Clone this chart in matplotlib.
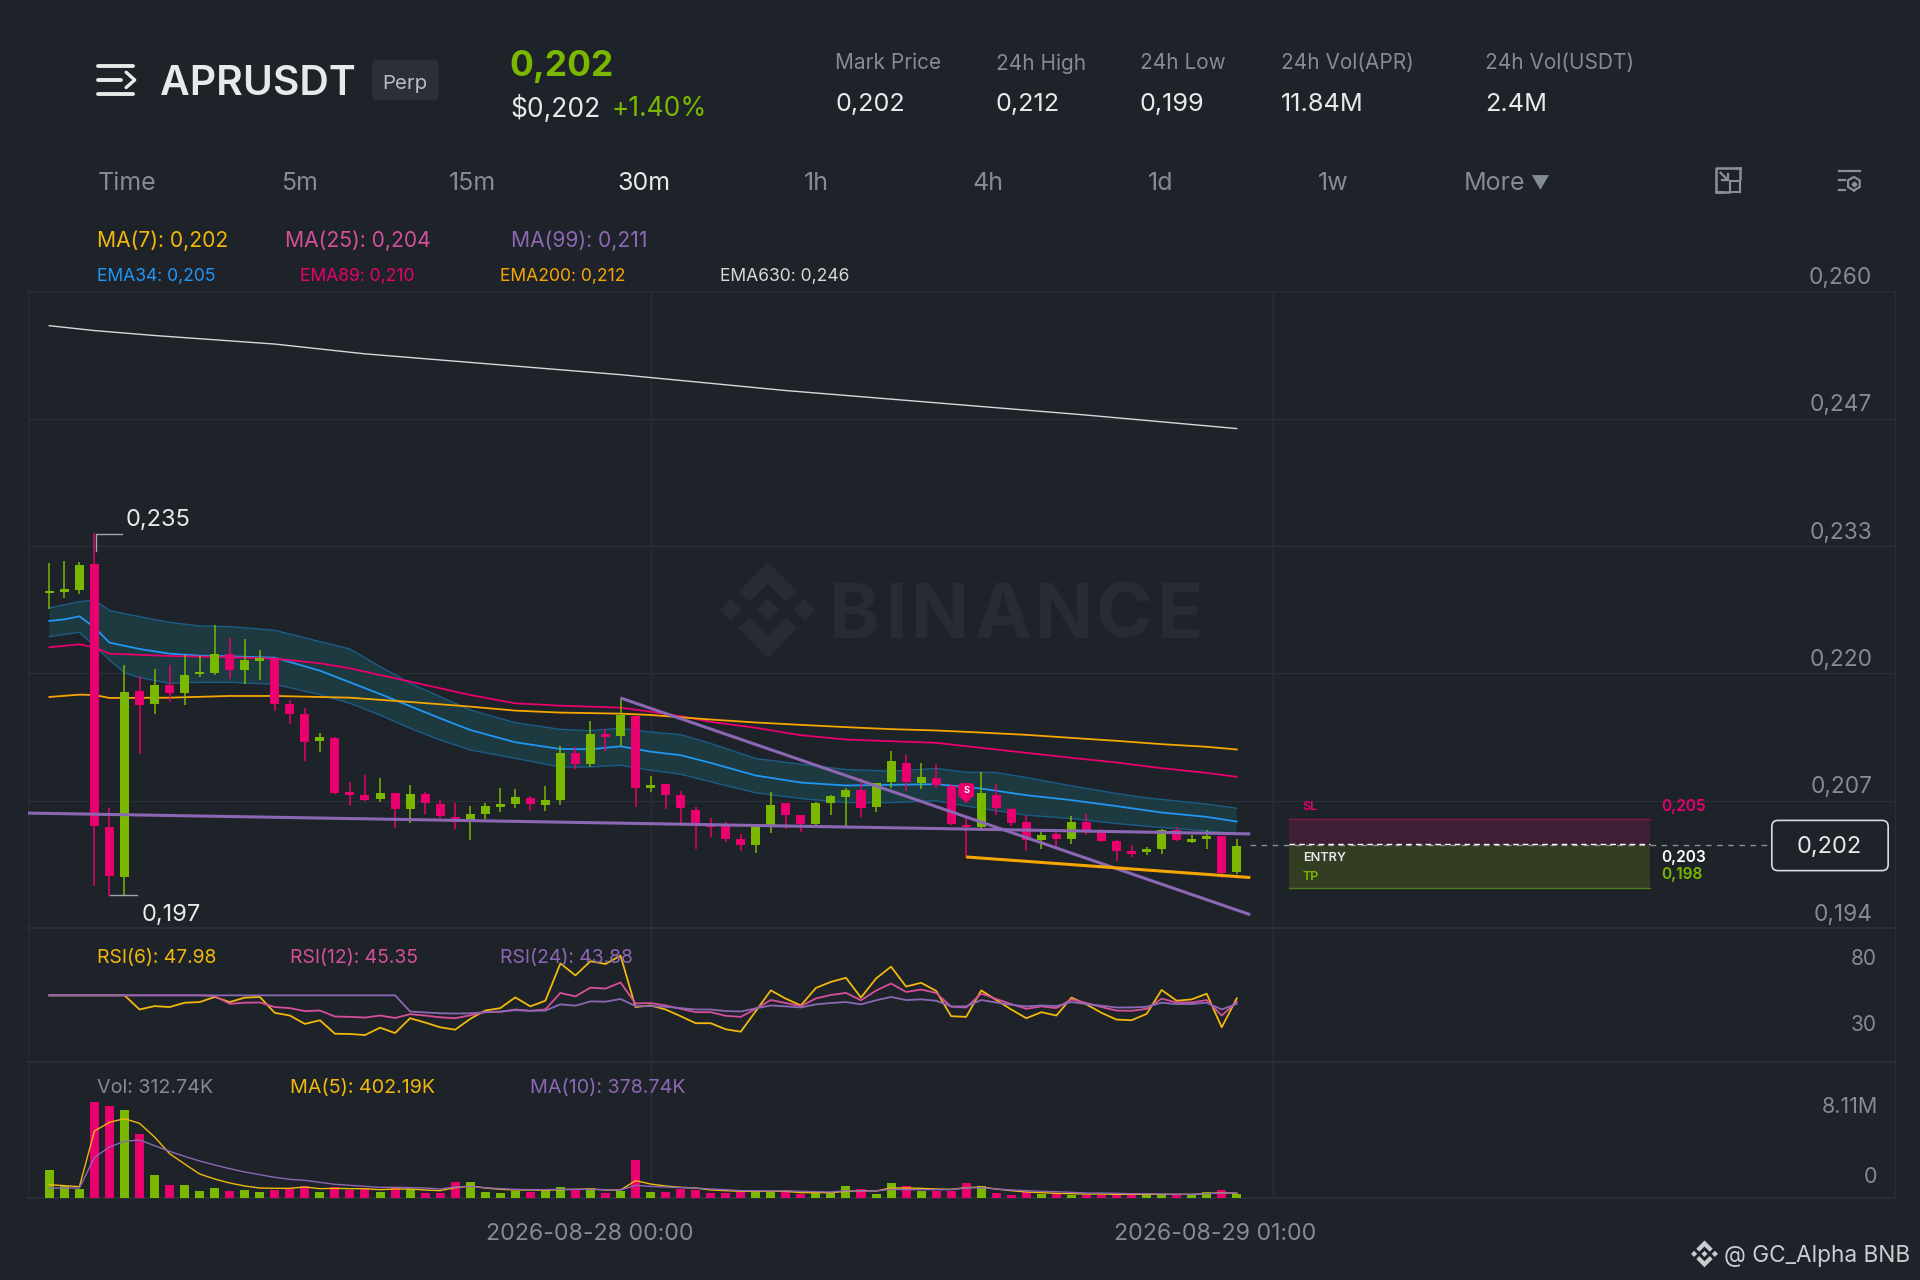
import matplotlib
matplotlib.use("Agg")
import matplotlib.pyplot as plt
from matplotlib.patches import FancyBboxPatch, Polygon, Rectangle
import numpy as np

plt.rcParams['font.family'] = ['Inter', 'DejaVu Sans']

# ---------- data (prices in 1e-5 units) ----------
PRICE_UNIT = 1e-5
direction = ("GGGRRGRGRGGG" "RGGRRRGRRRGR" "GRRRGGGGRGGR" "GRGRG"
             "RRRRRRGGRRGGG" "RGGRGRRRG" "RRRGRGRRRRGG" "RGGRG")
high = [23197,23214,23204,23505,20612,22120,22008,22078,22120,22225,22218,22537,22404,22394,22274,22194,21752,21664,21401,21359,
        20886,20966,20928,20770,20854,20781,20700,20672,20637,20665,20823,20816,20745,20844,21268,21254,21535,21443,21769,21587,
        20956,20873,20789,20621,20508,20470,20347,20424,20782,20663,20540,20680,20750,20831,20933,20883,21220,21178,21094,21076,
        20873,20529,20992,20873,20617,20529,20379,20396,20529,20550,20396,20284,20224,20203,20396,20417,20336,20389,20319,20294]
body_top = [22902,22920,23172,23183,20419,21836,21847,21910,21910,22018,22050,22232,22232,22173,22194,22194,21706,21605,21363,21352,
            20784,20753,20770,20770,20763,20763,20661,20521,20553,20633,20654,20731,20724,20696,21191,21194,21391,21391,21594,21584,
            20854,20866,20750,20599,20445,20449,20287,20417,20652,20663,20540,20663,20743,20803,20803,20876,21108,21094,20943,20936,
            20848,20435,20771,20750,20603,20466,20336,20343,20466,20466,20365,20263,20165,20186,20379,20379,20287,20326,20319,20214]
body_bot = [22874,22891,22913,20426,19900,19893,21699,21713,21829,21829,22022,22032,22067,22064,22166,21713,21608,21314,21324,20777,
            20756,20696,20714,20609,20609,20668,20535,20472,20472,20556,20626,20658,20658,20647,20700,21082,21082,21363,21377,20830,
            20826,20754,20613,20452,20417,20287,20228,20228,20424,20543,20449,20449,20673,20733,20613,20624,20887,20887,20876,20855,
            20445,20414,20417,20613,20456,20277,20277,20291,20291,20379,20266,20158,20133,20154,20186,20280,20256,20287,19933,19944]
low = [22706,22821,22863,19795,19694,19694,21184,21608,21727,21699,21994,22018,21973,21924,21962,21636,21496,21110,21201,20760,
       20637,20689,20675,20402,20461,20553,20500,20391,20283,20504,20577,20616,20588,20588,20647,21030,21051,21215,21271,20630,
       20788,20603,20431,20179,20312,20259,20165,20147,20351,20396,20368,20431,20540,20400,20519,20571,20824,20792,20813,20824,
       20435,20091,20375,20540,20428,20165,20186,20182,20235,20329,20259,20056,20095,20116,20133,20273,20249,20186,19884,19926]

ema34_idx = [0,1,2,3,4,6,8,10,12,15,18,22,26,28,31,34,36,38,40,42,44,47,50,53,56,59,62,65,68,71,74,77,79]
ema34 = [22583,22600,22632,22516,22355,22288,22239,22218,22211,22197,22060,21815,21559,21436,21307,21236,21233,21264,21208,
         21171,21090,20957,20883,20852,20859,20866,20820,20750,20698,20635,20568,20522,20473]
band_up_idx = [0,2,3,4,6,8,10,12,15,18,20,22,24,26,28,31,34,36,38,40,42,44,47,50,53,56,59,61,63,65,68,71,73,77,79]
band_up = [22720,22786,22804,22692,22628,22569,22530,22523,22485,22366,22288,22103,21927,21787,21647,21513,21443,21429,21454,21415,
           21388,21294,21136,21076,21020,21003,21031,20992,20989,20936,20848,20768,20722,20656,20613]
band_lo_idx = [0,2,3,4,5,6,8,10,12,15,18,20,22,24,26,28,31,34,36,38,40,42,44,47,50,53,56,59,62,65,68,71,74,77,79]
band_lo = [22418,22464,22320,22173,22039,21987,21927,21938,21938,21917,21808,21717,21594,21454,21331,21226,21138,21047,21047,21065,21012,
           20971,20891,20775,20715,20673,20673,20691,20610,20540,20505,20452,20410,20375,20343]
ema89_idx = [0,2,3,4,8,12,15,18,20,22,24,26,28,31,34,38,40,42,44,47,50,53,56,59,62,65,68,71,74,77,79]
ema89 = [22306,22337,22306,22239,22215,22201,22187,22138,22085,22015,21945,21875,21804,21717,21692,21671,21629,
         21581,21522,21459,21381,21336,21318,21301,21248,21196,21143,21094,21034,20985,20943]
ema200_idx = [0,2,3,4,8,12,15,20,24,28,31,34,38,40,44,47,50,53,56,59,62,65,68,71,74,77,79]
ema200 = [21783,21808,21804,21773,21776,21794,21794,21776,21731,21682,21640,21619,21608,21594,
          21546,21515,21490,21466,21445,21431,21409,21385,21353,21322,21287,21259,21231]
ema630_idx = [0,3,7,15,21,28,38,49,59,69,79]
ema630 = [25689,25638,25586,25496,25393,25303,25174,25007,24878,24749,24607]

trend_flat_x, trend_flat_y = [-1.42, 79.9], [20562, 20343]
trend_down_x, trend_down_y = [38.0, 79.9], [21773, 19493]
trend_gold_x, trend_gold_y = [61.0, 79.9], [20100, 19884]
box_x = [82.5, 106.5]
box_sl, box_entry, box_tp = 20498, 20228, 19777
last_price = 20228
grid_prices = [26050, 24711, 23372, 22033, 20694, 19355]
grid_labels = ["0,260", "0,247", "0,233", "0,220", "0,207", "0,194"]

rsi6 = [50.2,50.2,50.2,50.2,50.2,50.2,39.7,42.2,41.5,44.7,45.2,49.0,45.2,48.5,49.0,37.2,35.2,29.0,31.7,21.7,
        21.5,20.7,26.2,22.2,33.2,30.0,26.5,24.7,32.7,38.9,40.7,48.7,42.0,46.2,73.9,65.0,75.5,73.5,79.7,41.5,
        42.7,39.7,34.7,29.5,29.5,25.0,23.2,38.5,53.9,47.7,42.7,55.7,60.2,63.2,48.5,62.7,71.5,56.7,59.5,53.5,
        34.7,34.2,53.9,46.7,39.7,33.2,37.7,35.2,48.5,43.5,37.2,32.2,31.7,36.4,54.2,46.2,47.2,51.4,26.5,47.98]
rsi12 = [50.2,50.2,50.2,50.2,50.2,50.2,50.2,50.2,50.2,50.2,50.2,49.7,43.9,44.7,44.9,41.5,40.7,38.5,38.9,34.5,
         34.2,33.7,35.2,33.4,36.2,35.2,33.9,33.2,35.4,37.7,37.9,39.7,38.7,39.7,52.0,49.4,55.9,55.2,59.7,44.2,
         44.5,42.7,40.2,37.7,37.7,35.0,34.2,40.2,46.7,44.5,42.2,47.9,50.5,52.0,46.5,53.7,59.0,52.7,54.5,52.0,
         41.7,41.2,51.5,47.5,43.7,40.2,42.0,40.7,47.2,44.5,41.5,38.9,38.7,40.2,47.7,44.9,44.9,46.7,35.2,45.35]
rsi24 = [50.2]*24 + [38.2,37.5,36.9,36.7,36.9,37.7,38.2,39.2,38.7,38.9,43.5,42.5,45.7,45.5,47.5,42.2,
         42.2,41.7,40.7,39.7,39.7,38.5,38.2,40.5,42.7,42.0,41.2,43.5,44.5,45.2,43.5,46.5,49.0,46.7,47.2,46.2,
         42.0,42.0,46.7,44.9,43.2,42.0,42.7,42.2,45.2,43.7,42.5,41.2,41.2,41.7,44.7,43.7,43.7,44.7,39.7,43.88]

volume = [2805,1221,891,9537,9141,8679,6303,2310,1320,1254,726,1023,726,792,561,759,858,1188,627,1122,
          792,858,561,957,858,495,528,1617,1584,594,528,660,561,759,1122,792,1023,462,660,3795,
          594,627,858,825,495,495,561,660,693,594,429,495,495,1188,891,429,1452,1155,726,726,
          726,1452,1221,528,297,594,429,396,330,330,297,330,297,264,330,264,264,627,825,396]
vol_ma5 = [1320,1221,1122,6633,7491,7854,7392,6039,4389,3366,2376,1881,1485,1188,990,957,957,1089,924,957,
           924,924,825,891,891,792,726,1023,1188,990,858,792,792,759,825,858,891,792,792,1716,
           1386,1188,1056,990,792,726,660,660,660,660,528,528,528,660,726,693,990,990,957,891,
           858,1023,1089,891,726,594,528,462,429,396,396,363,363,363,363,363,363,429,528,462]
vol_ma10 = [990,990,990,4026,5049,5610,5742,5181,4620,4125,3663,3267,2904,2574,2310,2046,1848,1749,1551,1353,
            1254,1155,1056,1056,1023,990,891,1089,1155,1023,924,858,825,825,858,858,858,825,792,1254,
            1155,1089,1023,990,891,825,726,726,693,726,660,627,594,726,693,693,858,825,825,825,
            825,990,1023,891,792,726,660,627,561,495,495,462,429,429,396,363,363,429,495,495]

timeframes = ["Time","5m","15m","30m","1h","4h","1d","1w"]
tf_x = [104,245,386,526,667,807,948,1089]

# ---------- colours ----------
BG='#1E2229'; GRID='#2A2E36'; GREEN='#7AB800'; PINK='#E9006E'; BLUE='#2196F3'
GOLD='#F7A600'; YEL='#F0B90B'; MPINK='#D64F9A'; PURP='#8C68B4'; GRAY='#848B95'; LIGHT='#E8E9EB'

W,H=1920,1280
XL,XR=-1.42,122.86
fig=plt.figure(figsize=(W/100,H/100),dpi=100,facecolor=BG)
def mkax(l,t,r,b):
    a=fig.add_axes([l/W,1-b/H,(r-l)/W,(b-t)/H],facecolor='none')
    a.set_xticks([]); a.set_yticks([])
    for s in a.spines.values(): s.set_visible(False)
    a.set_xlim(XL,XR)
    return a
ax=mkax(28,291.4,1896,928); ax.set_ylim(0.19353,0.2605)
ar=mkax(28,928,1896,1062); ar.set_ylim(0.7,100.2)
av=mkax(28,1062,1896,1198); av.set_ylim(0,13464)
ov=fig.add_axes([0,0,1,1],facecolor='none'); ov.set_xlim(0,1568); ov.set_ylim(1045.33,0); ov.axis('off')
ov.set_zorder(0)
for a in (ax,ar,av): a.set_zorder(2)

P=lambda v: np.asarray(v,dtype=float)*PRICE_UNIT

# grid
for g in grid_prices: ax.axhline(g*PRICE_UNIT,color=GRID,lw=1,zorder=0)
for a,y in ((ar,0.7),(av,0)): a.axhline(y,color=GRID,lw=1.5,zorder=0,clip_on=False)
ax.axhline(0.19353,color=GRID,lw=1.5,zorder=0,clip_on=False)
for a in (ax,ar,av):
    for xv in (40.0,81.4): a.axvline(xv,color=GRID,lw=1,zorder=0)
    a.axvline(XL,color=GRID,lw=1.5,zorder=0); a.axvline(XR,color=GRID,lw=1.5,zorder=0)

# watermark and logos
def logo(cx,cy,s,color,ax_=ov,z=1):
    def dia(dx): return [(cx+(dx+x)*s,cy+y*s) for x,y in [(0,-11),(11,0),(0,11),(-11,0)]]
    for dx in (-37,0,37): ax_.add_patch(Polygon(dia(dx),closed=True,fc=color,ec='none',zorder=z))
    chev=[(0,-48),(29.3,-18.3),(18.7,-7.7),(0,-26.3),(-18.7,-7.7),(-29.3,-18.3)]
    for sg in (1,-1):
        ax_.add_patch(Polygon([(cx+x*s,cy+sg*y*s) for x,y in chev],closed=True,fc=color,ec='none',zorder=z))
logo(627,498,1/1.2245,'#282B33')
for ch,xc in zip("BINANCE",[698,732,768,819,869,918,964]):
    ov.text(xc,505,ch,color='#282B33',fontsize=55,fontweight='bold',ha='center',va='center',zorder=1)

# indicator band and EMAs
xu=list(band_up_idx); xl=list(band_lo_idx)
ax.fill(xu+xl[::-1],list(P(band_up))+list(P(band_lo))[::-1],fc='#1C3A40',ec='none',zorder=1)
ax.plot(xu,P(band_up),color='#1B5C86',lw=1,zorder=1.5)
ax.plot(xl,P(band_lo),color='#1B5C86',lw=1,zorder=1.5)
ax.plot(ema34_idx,P(ema34),color=BLUE,lw=1.3,zorder=2)
ax.plot(ema89_idx,P(ema89),color=PINK,lw=1.3,zorder=2)
ax.plot(ema200_idx,P(ema200),color=GOLD,lw=1.3,zorder=2)
ax.plot(ema630_idx,P(ema630),color='#D8D8D8',lw=1,zorder=2)

# candles
for i,d in enumerate(direction):
    c=GREEN if d=='G' else PINK
    ax.vlines(i,low[i]*PRICE_UNIT,high[i]*PRICE_UNIT,color=c,lw=1.1,zorder=3)
    ax.bar(i,(body_top[i]-body_bot[i])*PRICE_UNIT,bottom=body_bot[i]*PRICE_UNIT,width=0.6,color=c,zorder=3)

# trend lines
ax.plot(trend_flat_x,P(trend_flat_y),color=PURP,lw=2.2,zorder=4,solid_capstyle='butt')
ax.plot(trend_down_x,P(trend_down_y),color=PURP,lw=2.2,zorder=4,solid_capstyle='butt')
ax.plot(trend_gold_x,P(trend_gold_y),color=GOLD,lw=2.2,zorder=4,solid_capstyle='butt')

# trade box
ax.add_patch(Rectangle((box_x[0],box_entry*PRICE_UNIT),box_x[1]-box_x[0],(box_sl-box_entry)*PRICE_UNIT,fc='#3E1F36',ec='none',zorder=1))
ax.add_patch(Rectangle((box_x[0],box_tp*PRICE_UNIT),box_x[1]-box_x[0],(box_entry-box_tp)*PRICE_UNIT,fc='#333D24',ec='none',zorder=1))
ax.plot(box_x,[box_sl*PRICE_UNIT]*2,color='#8A1650',lw=1,zorder=2)
ax.plot(box_x,[box_tp*PRICE_UNIT]*2,color='#4F7A1A',lw=1,zorder=2)
ax.plot([79.9,114.4],[last_price*PRICE_UNIT-2e-5]*2,color='#8A8F98',lw=1,ls=(0,(4,4)),zorder=2)
ax.plot(box_x,[last_price*PRICE_UNIT+8e-5]*2,color='white',lw=1,ls=(0,(4,3)),zorder=3)

# RSI
x80=np.arange(80)
ar.plot(x80,rsi6,color=YEL,lw=1.3,zorder=3)
ar.plot(x80,rsi12,color=MPINK,lw=1.3,zorder=4)
ar.plot(x80,rsi24,color=PURP,lw=1.3,zorder=5)

# Volume
av.bar(x80,volume,width=0.6,color=[GREEN if d=='G' else PINK for d in direction],zorder=2)
av.plot(x80,vol_ma5,color=YEL,lw=1,zorder=3)
av.plot(x80,vol_ma10,color=PURP,lw=1,zorder=4)

# overlay for annotations on top
top=fig.add_axes([0,0,1,1],facecolor='none'); top.set_xlim(0,1568); top.set_ylim(1045.33,0); top.axis('off'); top.set_zorder(6)
def T(x,y,s,size=14,color=GRAY,ha='left',weight='normal',z=10):
    top.text(x,y+0.12*size,s,color=color,fontsize=size,ha=ha,va='center',fontweight=weight,zorder=z)

# hamburger icon
for y,x0,x1 in ((53.6,80,109),(65.3,80,99),(76.8,80,109)):
    top.plot([x0,x1],[y,y],color=LIGHT,lw=2.8,solid_capstyle='round')
top.plot([103,110,103],[59,65.3,71.5],color=LIGHT,lw=2.4,solid_capstyle='round')

T(131,65,"APRUSDT",29.4,LIGHT,weight='semibold')
top.add_patch(FancyBboxPatch((307,52),48,27,boxstyle="round,pad=3,rounding_size=4",fc='#2B3038',ec='none'))
T(331,67,"Perp",14.7,'#B7BDC6',ha='center')
T(416,51,"0,202",25.5,GREEN,weight='bold')
T(417,87,"$0,202",19,LIGHT)
T(499,87,"+1.40%",19,GREEN)
for x,lab,val in ((682,"Mark Price","0,202"),(813,"24h High","0,212"),(931,"24h Low","0,199"),(1046,"24h Vol(APR)","11.84M"),(1213,"24h Vol(USDT)","2.4M")):
    T(x,50,lab,15,GRAY); T(x,83,val,18.2,LIGHT)
for s,x in zip(timeframes,tf_x):
    T(x,148,s,18,LIGHT if s=="30m" else GRAY,ha='center')
T(1195,148,"More",18,GRAY)
top.add_patch(Polygon([(1251,143),(1265,143),(1258,155)],closed=True,fc=GRAY,ec='none'))

# toolbar icons
IC='#8A8F98'
top.plot([1418,1401.5,1401.5,1407],[137.5,137.5,157,157] ,color=IC,lw=1.8)
top.plot([1401.5,1412],[157,157],color=IC,lw=1.8)
top.plot([1421,1421],[137.5,146],color=IC,lw=1.8); top.plot([1418,1421],[137.5,137.5],color=IC,lw=1.8)
top.add_patch(Rectangle((1412.5,148),8.5,9,fc='none',ec=IC,lw=1.5))
top.plot([1405,1411],[141,147],color=IC,lw=1.6); top.plot([1406,1411,1411],[147,147,142],color=IC,lw=1.6)
top.plot([1502,1519],[140,140],color=IC,lw=1.6)
top.plot([1502,1507],[147,147],color=IC,lw=1.6); top.plot([1502,1507],[155,155],color=IC,lw=1.6)
th=np.linspace(np.pi/2,np.pi/2+2*np.pi,7)
top.plot(1514+5.5*np.cos(th),150+5.5*np.sin(th),color=IC,lw=1.6)
top.plot([1514],[150],'D',color=IC,ms=2.5)

# indicator labels
T(79,195,"MA(7): 0,202",15.2,YEL); T(233,195,"MA(25): 0,204",15.2,MPINK); T(417,195,"MA(99): 0,211",15.2,PURP)
T(79,224,"EMA34: 0,205",12.6,BLUE); T(245,224,"EMA89: 0,210",12.6,PINK); T(408,224,"EMA200: 0,212",12.6,GOLD); T(588,224,"EMA630: 0,246",12.6,'#D8D8D8')
T(79,781,"RSI(6): 47.98",13.9,YEL); T(237,781,"RSI(12): 45.35",13.9,MPINK); T(408,781,"RSI(24): 43.88",13.9,PURP)
T(79,887,"Vol: 312.74K",14.2,GRAY); T(237,887,"MA(5): 402.19K",14.2,YEL); T(433,887,"MA(10): 378.74K",14.2,PURP)

# axis labels
for s,y in zip(grid_labels,(225,329,433,537,641,745)): T(1529,y,s,16.3,GRAY,ha='right')
T(1533,781,"80",15,GRAY,ha='right'); T(1533,835,"30",15,GRAY,ha='right')
T(1534,902,"8.11M",15.5,GRAY,ha='right'); T(1533,959,"0",15.5,GRAY,ha='right')
T(482,1006,"2026-08-28 00:00",16.7,GRAY,ha='center'); T(992,1006,"2026-08-29 01:00",16.7,GRAY,ha='center')

# high/low markers
top.plot([78,78,100],[450,436,436],color='#A0A4AB',lw=1)
T(103,423,"0,235",17,LIGHT)
top.plot([90,112],[731,731],color='#A0A4AB',lw=1)
T(116,745,"0,197",17,LIGHT)

# S marker
top.add_patch(FancyBboxPatch((785,642),8,7,boxstyle="round,pad=2.5,rounding_size=2.5",fc=PINK,ec='none'))
top.add_patch(Polygon([(783,650),(795,650),(789,656)],closed=True,fc=PINK,ec='none'))
T(789,645,"S",6.5,'white',ha='center',weight='bold')

# trade labels
T(1064,658,"SL",9,PINK,weight='semibold'); T(1357,657,"0,205",11.2,PINK,weight='semibold')
T(1064,700,"ENTRY",9.2,LIGHT,weight='semibold'); T(1357,699,"0,203",11.2,'white',weight='semibold')
T(1064,715,"TP",9,GREEN,weight='semibold'); T(1357,713,"0,198",11.2,GREEN,weight='semibold')

# price tag
top.add_patch(FancyBboxPatch((1451,674),87,33,boxstyle="round,pad=4,rounding_size=5",fc=BG,ec='#D8DADD',lw=1.2))
T(1494,690,"0,202",17,LIGHT,ha='center')

# credit
logo(1392,1024,0.28/1.2245,'#C9CCD0',ax_=top)
T(1408,1024,"@ GC_Alpha BNB",16.3,'#C9CCD0')

fig.savefig("out.png",dpi=100,facecolor=BG)
